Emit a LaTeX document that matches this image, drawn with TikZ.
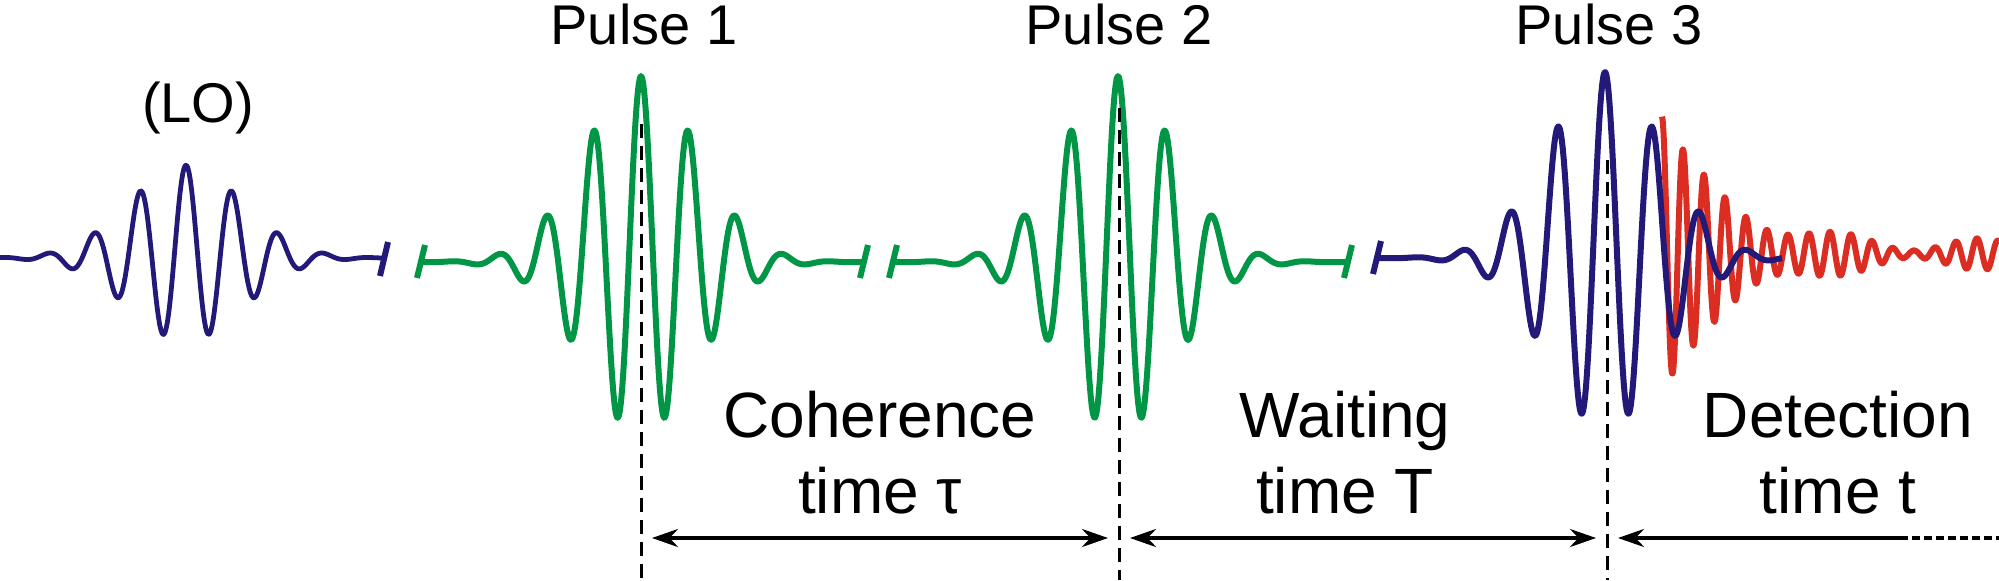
\documentclass[tikz,border=0pt]{standalone}
\usepackage{fontspec}
\setmainfont{Liberation Sans}
\usetikzlibrary{arrows.meta}
\definecolor{pg}{RGB}{0,150,70}
\definecolor{pb}{RGB}{35,25,120}
\definecolor{pr}{RGB}{220,45,35}
\begin{document}
\begin{tikzpicture}[x=0.5pt,y=-0.5pt,
  wave/.style={line width=3pt,line join=round},
  tick/.style={line width=3pt},
  dmark/.style={line width=1.5pt,dash pattern=on 7pt off 4pt},
  arr/.style={line width=1.8pt,{Stealth[length=13pt,width=9pt]}-{Stealth[length=13pt,width=9pt]}},
  lab/.style={font=\fontsize{28}{32}\selectfont},
  big/.style={font=\fontsize{32}{38}\selectfont,align=center}]
\useasboundingbox (0,0) rectangle (1999,580);
% LO
\draw[wave,pb,line width=2.4pt] plot[domain=0:382,samples=300] (\x,{258-exp(-((\x-186)/80)^2)*(5+88*cos((360/46)*(\x-186)))});
\draw[tick,pb] (380,276) -- (388,242);
% Pulse 1
\draw[wave,pg] plot[domain=421:862,samples=400] (\x,{262-exp(-((\x-641)/80)^2)*(8+178*cos((360/47.5)*(\x-641)))});
\draw[tick,pg] (417,278) -- (425,245);
\draw[tick,pg] (860,278) -- (868,245);
% Pulse 2
\draw[wave,pg] plot[domain=893:1346,samples=400] (\x,{262-exp(-((\x-1118)/80)^2)*(8+178*cos((360/47.5)*(\x-1118)))});
\draw[tick,pg] (889,278) -- (897,245);
\draw[tick,pg] (1344,278) -- (1352,245);
% red signal
\draw[wave,pr] plot[domain=1662:1999,samples=700] (\x,{254-(130*exp(-(\x-1662)/60)+15*(0.55+0.45*cos((360/140)*(\x-1700))))*cos((360/21)*(\x-1662))});
% Pulse 3
\draw[wave,pb] plot[domain=1377:1782,samples=400] (\x,{258-exp(-((\x-1605)/80)^2)*(8+178*cos((360/47.5)*(\x-1605)))});
\draw[tick,pb] (1373,274) -- (1381,241);
% dashed markers
\coordinate (d1t) at (641,124);  \coordinate (d1b) at (641,580);
\coordinate (d2t) at (1119,108); \coordinate (d2b) at (1119,580);
\coordinate (d3t) at (1607,160);\coordinate (d3b) at (1607,580);
\draw[dmark] (d1t) -- (d1b);
\draw[dmark] (d2t) -- (d2b);
\draw[dmark] (d3t) -- (d3b);
% arrows
\coordinate (a1) at (652,538); \coordinate (a2) at (1108,538);
\coordinate (b1) at (1130,538); \coordinate (b2) at (1596,538);
\coordinate (c1) at (1618,538); \coordinate (c2) at (1900,538); \coordinate (c3) at (1999,538);
\draw[arr] (a1) -- (a2);
\draw[arr] (b1) -- (b2);
\draw[line width=1.8pt,{Stealth[length=13pt,width=9pt]}-] (c1) -- (c2);
\draw[line width=1.8pt,dash pattern=on 4pt off 2pt] (c2) -- (c3);
% labels
\node[lab] (p1) at (644,24) {Pulse 1};
\node[lab] (p2) at (1119,24) {Pulse 2};
\node[lab] (p3) at (1609,24) {Pulse 3};
\node[lab] (lo) at (198,108) {(LO)};
\node[big] (ct) at (880,453) {Coherence\\time τ};
\node[big] (wt) at (1345,453) {Waiting\\time T};
\node[big] (dt) at (1838,453) {Detection\\time t};
\end{tikzpicture}
\end{document}
